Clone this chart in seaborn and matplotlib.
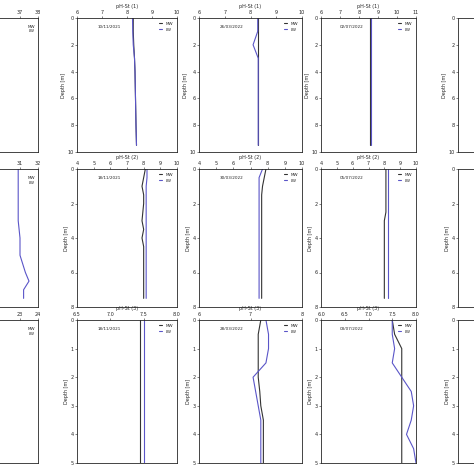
import numpy as np
import matplotlib
matplotlib.use("Agg")
import matplotlib.pyplot as plt
import seaborn as sns

sns.set_style("ticks")
plt.rcParams['font.family'] = ['DejaVu Sans']

W = H = 474.0

# pH profiles (depth, MW, LW) per station / date
depth1 = [0, 1, 2, 3, 4, 5, 6, 7, 8, 9.5]
mw1a = [8.25, 8.25, 8.27, 8.3, 8.32, 8.33, 8.34, 8.35, 8.36, 8.38]
lw1a = [8.22, 8.23, 8.25, 8.3, 8.32, 8.33, 8.34, 8.35, 8.36, 8.38]
mw1b = [8.3, 8.3, 8.3, 8.3, 8.3, 8.3, 8.3, 8.3, 8.3, 8.3]
lw1b = [8.28, 8.28, 8.1, 8.3, 8.3, 8.3, 8.3, 8.3, 8.3, 8.3]
mw1c = [8.6, 8.6, 8.6, 8.6, 8.6, 8.6, 8.6, 8.6, 8.6, 8.6]
lw1c = [8.62, 8.62, 8.62, 8.62, 8.62, 8.62, 8.62, 8.62, 8.62, 8.62]

depth2 = [0, 0.5, 1, 1.5, 2, 2.5, 3, 3.5, 4, 4.5, 5, 6, 7.5]
mw2a = [8.1, 8.0, 7.9, 8.0, 8.0, 7.95, 7.9, 8.0, 7.9, 8.0, 8.0, 8.0, 8.0]
lw2a = [8.2, 8.2, 8.15, 8.15, 8.15, 8.15, 8.15, 8.15, 8.15, 8.15, 8.15, 8.15, 8.15]
mw2b = [7.9, 7.8, 7.7, 7.65, 7.65, 7.65, 7.65, 7.65, 7.65, 7.65, 7.65, 7.65, 7.65]
lw2b = [7.7, 7.5, 7.5, 7.5, 7.5, 7.5, 7.5, 7.5, 7.5, 7.5, 7.5, 7.5, 7.5]
mw2c = [8.1, 8.1, 8.1, 8.1, 8.1, 8.1, 8.0, 8.0, 8.0, 8.0, 8.0, 8.0, 8.0]
lw2c = [8.2, 8.2, 8.2, 8.2, 8.2, 8.2, 8.2, 8.2, 8.2, 8.2, 8.2, 8.2, 8.2]

depth3 = [0, 0.5, 1, 1.5, 2, 2.5, 3, 3.5, 4, 4.5, 5]
mw3a = [7.45, 7.45, 7.45, 7.45, 7.45, 7.45, 7.45, 7.45, 7.45, 7.45, 7.45]
lw3a = [7.5, 7.5, 7.5, 7.5, 7.5, 7.5, 7.5, 7.5, 7.5, 7.5, 7.5]
mw3b = [7.2, 7.15, 7.15, 7.15, 7.15, 7.18, 7.2, 7.25, 7.25, 7.25, 7.25]
lw3b = [7.3, 7.35, 7.35, 7.3, 7.05, 7.1, 7.15, 7.2, 7.2, 7.2, 7.2]
mw3c = [7.5, 7.55, 7.7, 7.7, 7.7, 7.7, 7.7, 7.7, 7.7, 7.7, 7.7]
lw3c = [7.5, 7.5, 7.55, 7.5, 7.7, 7.9, 7.95, 7.9, 7.8, 7.95, 8.0]

rows = [
    dict(title="pH-St (1)", depth=depth1, ylim=10, yt=[0, 2, 4, 6, 8, 10],
         xlims=[(6, 10), (6, 10), (6, 11)],
         xt=[[6, 7, 8, 9, 10], [6, 7, 8, 9, 10], [6, 7, 8, 9, 10, 11]],
         dates=["10/11/2021", "26/03/2022", "02/07/2022"],
         data=[(mw1a, lw1a), (mw1b, lw1b), (mw1c, lw1c)]),
    dict(title="pH-St (2)", depth=depth2, ylim=8, yt=[0, 2, 4, 6, 8],
         xlims=[(4, 10), (4, 10), (4, 10)],
         xt=[[4, 5, 6, 7, 8, 9, 10]] * 3,
         dates=["18/11/2021", "30/03/2022", "05/07/2022"],
         data=[(mw2a, lw2a), (mw2b, lw2b), (mw2c, lw2c)]),
    dict(title="pH-St (3)", depth=depth3, ylim=5, yt=[0, 1, 2, 3, 4, 5],
         xlims=[(6.5, 8.0), (6, 8), (6.0, 8.0)],
         xt=[[6.5, 7, 7.5, 8], [6, 7, 8], [6.0, 6.5, 7.0, 7.5, 8.0]],
         dates=["18/11/2021", "28/03/2022", "03/07/2022"],
         data=[(mw3a, lw3a), (mw3b, lw3b), (mw3c, lw3c)]),
]

# partial panels at the left edge (only right part visible)
left_ticks = [(["37", "38"], 10), (["31", "32"], 8), (["23", "24"], 5)]
left_curve_d = [0, 1, 2, 3, 3.5, 4, 5, 6, 6.5, 7, 7.5]
left_curve_t = [30.9, 30.9, 30.9, 30.9, 30.95, 31.0, 31.0, 31.3, 31.5, 31.2, 31.2]

tops = [18, 169, 320]
bots = [152, 307, 463]
lefts = [77, 199, 321]
widths = [100, 103, 95]

fig = plt.figure(figsize=(4.74, 4.74), dpi=100)

def box(x0, x1, y0, y1):
    return [x0 / W, 1 - y1 / H, (x1 - x0) / W, (y1 - y0) / H]

for r, row in enumerate(rows):
    y0, y1 = tops[r], bots[r]
    for c in range(3):
        ax = fig.add_axes(box(lefts[c], lefts[c] + widths[c], y0, y1))
        mw, lw = row["data"][c]
        sns.lineplot(x=mw, y=row["depth"], sort=False, estimator=None, color="#333333",
                     lw=0.8, ax=ax, label="MW")
        sns.lineplot(x=lw, y=row["depth"], sort=False, estimator=None, color="#5a55c8",
                     lw=0.8, ax=ax, label="LW")
        ax.set_xlim(*row["xlims"][c])
        ax.set_xticks(row["xt"][c])
        ax.set_ylim(row["ylim"], 0)
        ax.set_yticks(row["yt"])
        ax.xaxis.tick_top()
        ax.xaxis.set_label_position("top")
        ax.set_xlabel(row["title"], fontsize=3.5, labelpad=1)
        ax.set_ylabel("Depth [m]", fontsize=3.5, labelpad=1)
        ax.tick_params(labelsize=3.5, length=1.5, width=0.4, pad=1)
        for s in ax.spines.values():
            s.set_linewidth(0.6)
        ax.text(0.32, 0.95, row["dates"][c], transform=ax.transAxes, fontsize=3,
                va="top", ha="center")
        ax.legend(loc="upper right", fontsize=3, frameon=False, handlelength=0.8,
                  borderaxespad=0.5)
    # left partial panel
    lt, ylim = left_ticks[r]
    vals = [float(v) for v in lt]
    axl = fig.add_axes(box(-60, 38, y0, y1))
    axl.set_xlim(vals[-1] - 98 / 18, vals[-1])
    axl.set_xticks(vals)
    axl.set_xticklabels(lt)
    axl.set_ylim(ylim, 0)
    axl.set_yticks([])
    axl.xaxis.tick_top()
    axl.tick_params(labelsize=3.5, length=1.5, width=0.4, pad=1)
    for s in axl.spines.values():
        s.set_linewidth(0.6)
    if r == 1:
        sns.lineplot(x=left_curve_t, y=left_curve_d, sort=False, estimator=None,
                     color="#5a55c8", lw=0.8, ax=axl, legend=False)
    axl.text(0.97, 0.95, "MW\nLW", transform=axl.transAxes, fontsize=3, va="top", ha="right")
    # right partial panel (only left spine visible)
    axr = fig.add_axes(box(458, 560, y0, y1))
    axr.set_ylim(row["ylim"], 0)
    axr.set_yticks(row["yt"])
    axr.set_xticks([])
    axr.set_ylabel("Depth [m]", fontsize=3.5, labelpad=1)
    axr.tick_params(labelsize=3.5, length=1.5, width=0.4, pad=1)
    for s in axr.spines.values():
        s.set_linewidth(0.6)

fig.savefig("out.png", dpi=100)
